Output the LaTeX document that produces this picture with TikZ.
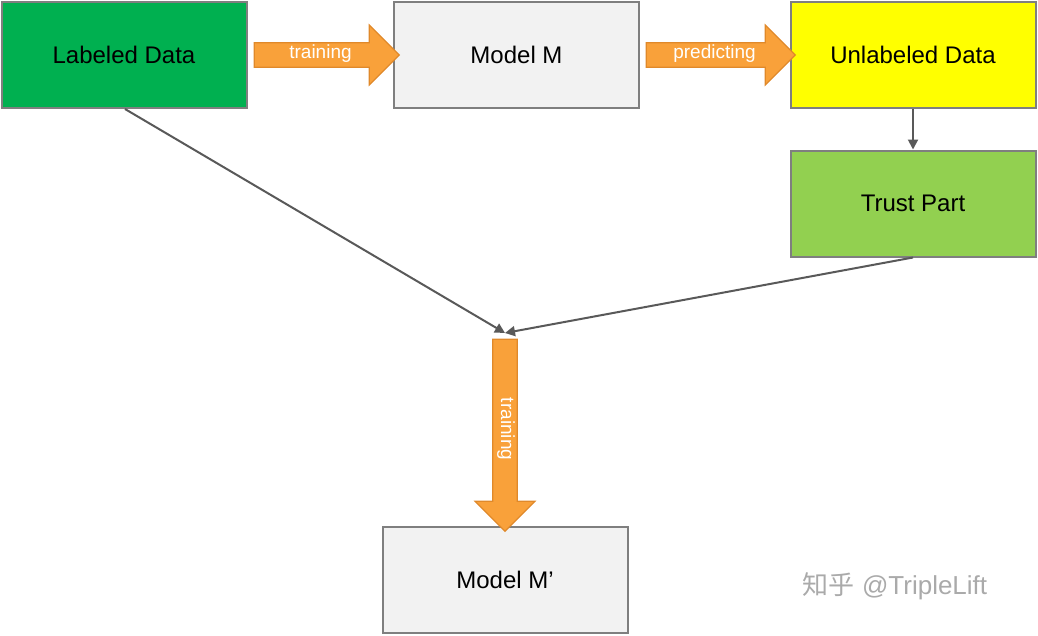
\documentclass[tikz,border=0pt]{standalone}
\usepackage{fontspec}
\setmainfont{Liberation Sans}
\newfontfamily\cjk{Noto Sans CJK SC}
\usetikzlibrary{shapes.arrows,arrows.meta}
\definecolor{boxline}{HTML}{7F7F7F}
\definecolor{conn}{HTML}{595959}
\definecolor{orng}{HTML}{F9A13A}
\definecolor{orngd}{HTML}{E0892A}
\begin{document}
\begin{tikzpicture}[x=1pt,y=-1pt,
  box/.style={draw=boxline,line width=2pt,minimum width=245pt,minimum height=106pt,font=\fontsize{24}{28}\selectfont,inner sep=0pt},
  fat/.style={single arrow,draw=orngd,fill=orng,line width=1.2pt,minimum height=#1,minimum width=60pt,single arrow head extend=15pt,single arrow tip angle=90,inner sep=0pt,font=\fontsize{19}{22}\selectfont,text=white},
  conn/.style={draw=conn,line width=2pt,-{Triangle[length=10pt,width=10pt]}}]
\useasboundingbox (0,0) rectangle (1038,635);
\node[box,fill={rgb,255:red,0;green,176;blue,80}] (ld) at (124,54.5) {Labeled Data};
\node[box,fill={rgb,255:red,242;green,242;blue,242}] (m) at (516.5,54.5) {Model M};
\node[box,fill={rgb,255:red,255;green,255;blue,0}] (ud) at (913,54.5) {Unlabeled Data};
\node[box,fill={rgb,255:red,146;green,208;blue,80}] (tp) at (913,203.5) {Trust Part};
\node[box,fill={rgb,255:red,242;green,242;blue,242}] (mp) at (505,579.5) {Model M’};
\node[fat=145pt] (a1) at (320.5,55) {\raisebox{6pt}{training}\hspace{12pt}};
\node[fat=149pt] (a2) at (714.5,55) {\raisebox{6pt}{predicting}\hspace{12pt}};
\node[fat=192pt,rotate=-90] (a3) at (505,429) {\raisebox{6pt}{training}\hspace{18pt}};
\coordinate (j) at (505,333);
\draw[conn] (125,109) -- (j);
\draw[conn] (tp.south) -- (j);
\draw[conn] (ud.south) -- (tp.north);
\node[text={rgb,255:red,170;green,170;blue,170},font=\fontsize{26}{30}\selectfont,anchor=center] (wm) at (895,586) {{\cjk 知乎} @TripleLift};
\end{tikzpicture}
\end{document}
